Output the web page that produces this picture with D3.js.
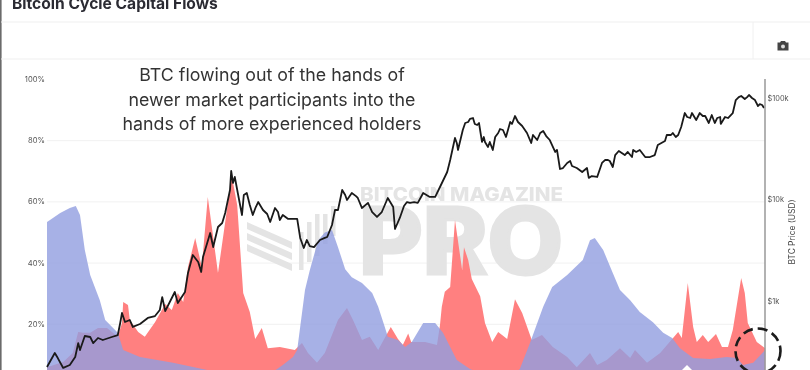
<!DOCTYPE html>
<html>
<head>
<meta charset="utf-8">
<script src="https://cdn.jsdelivr.net/npm/d3@7"></script>
<style>
  html, body { margin: 0; padding: 0; background: #fff; overflow: hidden; }
  svg { display: block; font-family: Inter, "Noto Sans", sans-serif; filter: blur(0.45px); }
</style>
</head>
<body>
<div id="chart"></div>
<script>
// all x values are months since the left edge of the chart (about May 2015)
const blueMonths = [0,.5,2.2,3.8,4.8,5.5,6.3,7.2,8.8,9.7,11.8,12.7,15.5,21,26.7,30.5,35.5,39.3,41,41.7,43,43.8,45.2,46.3,47.5,48.5,49.7,50.8,52.5,54.2,55.2,56.3,56.8,58.5,59.7,60.8,62.7,64.7,66,67.2,68.3,70.5,73.8,77.2,78.8,80.5,82.7,84.2,86.7,89.3,90.5,91.3,92.7,94.3,95.5,97.2,98.8,101,102.7,104.2,105.5,107.7,110.5,113.3,115,116,117.7,119.7];
const blueValues = [53.4,54.1,56.4,58,58.7,55.7,44.3,36.1,27.9,21.4,17.2,11.6,9.3,7.4,5.1,2.9,1.5,6.7,9.3,11.6,31.2,37.7,47.5,50,50.8,45.2,38,35.4,33.5,30.2,25.7,19.1,15.9,14.9,12.6,14.2,20.4,20.4,17.2,12.6,8.3,5.4,2.5,2.5,5.4,13.9,25.7,32.2,36.1,41,47.5,48.2,44.3,36.8,31.2,27.9,24,20.7,17.2,15.5,12.2,9,8.7,9.3,9,6.7,7.4,11.6];

const redMonths = [0,2.7,4.3,5.2,6,7.2,8.5,10,11.8,12.5,12.7,13.5,13.8,15.2,16.3,18,19.7,20.8,21.8,22.7,23.5,24.7,25.8,26.8,28.5,30.5,30.8,31.7,32.7,33.8,34.7,35.8,36.8,38.8,41.3,42.5,43.5,45,46.3,48.5,50,51,52.5,53.8,55.2,56.2,57.3,58.5,59.3,60.2,60.7,63,65,65.5,65.8,66.3,67.2,68,69.2,69.5,70.2,70.8,72.2,73,74.2,75.2,76.7,78,79.2,80.8,82.5,84.3,86.7,88.3,90.5,91.7,93.3,95.5,97.2,98,100,102.2,104.2,105.2,105.8,106.8,107.7,108.3,109.3,110.2,111.5,112.5,113.5,114.3,115.7,116.3,116.8,118.3,119.7];
const redValues = [6,7.7,10.6,17.5,17.2,17.2,18.8,18.8,15.9,20.4,27.3,26.3,21.4,17.5,15.9,20.7,26.6,24.7,30.2,27.3,38.7,48.2,38.7,61.6,36.8,64.5,68.5,59,30.2,24,15.2,18.8,12.2,12.6,11.6,13.9,10.6,7.4,10.6,21.4,25.3,21.4,14.9,15.9,11.6,15.2,19.1,15.2,13.2,17,14.2,14.2,13.2,19.8,25.7,30.6,32.2,54.1,37.7,45.2,41,34.8,29.2,20.4,14.2,17.5,15.2,28.2,23.7,14.9,16.5,12.6,9.3,6,10.6,6.7,8.3,12.2,9,11.6,7.4,10.6,15.2,17.5,15.5,33.5,19.1,14.2,16.5,14.2,16.8,12.6,12.6,18.1,35.1,30.2,20.4,14.2,12.2];

const priceMonths = [
  0,1.3,1.8,2.7,3.8,4.7,5.2,5.5,6.3,7.2,
  7.7,8.5,9.3,10.8,11.8,12.2,12.5,13,13.8,14.3,
  15.5,16.8,18,18.8,19.2,19.7,20.8,21.3,21.8,23,
  23.5,24.3,25.2,25.7,26,27.2,27.7,28.5,29.2,29.7,
  30.5,30.7,31,31.3,31.8,32.5,32.8,33.3,33.8,34.3,
  34.8,35.2,36,36.7,37.2,38,38.5,38.8,39.3,40.2,
  40.8,41.7,42.2,42.8,43.3,43.8,44.5,45.5,46.3,46.7,
  47.5,48,48.5,49.2,49.7,50,50.8,51.5,51.8,52.5,
  53.5,54.2,55,55.8,56.3,56.8,57.7,58,58.8,59.5,
  60,60.5,61.2,61.8,62.7,63.8,64.7,65.5,66.7,67.2,
  68,68.3,68.5,69.3,69.7,70.2,70.5,71,71.3,71.7,
  72,72.5,72.8,73,73.5,73.8,74.3,74.7,75.2,75.5,
  76,76.5,77.2,77.5,78,78.5,79.2,80,80.7,81,
  81.7,82.2,82.7,83.2,83.8,84.7,85,85.5,86,86.7,
  87.2,87.5,88.3,89.2,90,90.3,90.8,91.7,92.5,93,
  93.5,93.8,94.3,94.7,95.3,96.3,96.8,97.5,97.7,98.2,
  98.8,99.7,100.5,101.3,101.8,103,103.3,104,104.3,104.8,
  105.2,105.7,106.3,106.7,107.2,107.5,108.2,108.8,109.3,109.7,
  110.3,110.8,111.3,111.7,112.2,112.3,113,113.5,114.3,114.8,
  115.3,115.7,116.3,116.7,117,117.5,118,118.5,118.8,119.2,
  119.5
];
const priceUsd = [
  224,307,274,219,234,281,385,329,452,442,
  385,432,413,442,462,607,762,621,650,555,
  593,681,711,815,1094,796,1071,1227,955,1227,
  1888,2838,2421,1932,2710,4677,3404,5358,5867,7362,
  12410,19100,14550,16670,11590,7030,11070,11590,8830,7030,
  8430,9440,7880,7200,6000,8240,7530,6280,7030,6430,
  6430,6430,4180,3330,3990,3470,3400,3990,4180,4270,
  5610,7880,7880,12410,11070,9890,11590,10800,10350,8240,
  9250,7530,6730,7530,8830,10350,8430,5120,6580,8640,
  9440,9250,9440,9250,11590,10590,10590,13280,18660,24490,
  40360,36060,30760,48400,56700,58030,62300,63500,55500,54200,
  56700,36900,41300,36900,32900,36900,30760,41300,45200,49500,
  48400,41300,58030,55500,66500,58030,53000,45200,36060,43200,
  38550,45200,47300,42200,38550,29400,30760,19970,20420,22900,
  23950,21400,20420,18660,20420,16300,17000,16670,22900,24490,
  24490,23950,20900,27400,30060,27400,29400,26200,30760,29400,
  30760,26200,26200,27400,34400,37700,43200,43200,45200,41300,
  43200,51800,71100,65000,63500,71100,60700,71100,66500,66500,
  56700,68000,56700,63500,65000,55500,65000,63500,71100,95500,
  102000,104600,97700,102000,107100,100000,95500,83400,87000,85300,
  79600
];

const pctTicks = [100, 80, 60, 40, 20];
const priceTicks = [100000, 10000, 1000];
const priceTickLabels = ["$100k", "$10k", "$1k"];
const noteLines = [
  "BTC flowing out of the hands of",
  "newer market participants into the",
  "hands of more experienced holders"
];

const width = 810, height = 370;
const plotLeft = 47, plotRight = 765;

const x = d3.scaleLinear().domain([0, 119.67]).range([plotLeft, plotRight]);
const yPct = d3.scaleLinear().domain([0, 100]).range([385.5, 79.5]);
const yPrice = d3.scaleLog().domain([1000, 100000]).range([301, 98]);

const svg = d3.select("#chart").append("svg")
  .attr("width", width)
  .attr("height", height);

// page furniture around the chart
svg.append("text")
  .attr("x", 12).attr("y", 8.5)
  .attr("font-size", 15.6).attr("font-weight", 700).attr("fill", "#2b2b33")
  .text("Bitcoin Cycle Capital Flows");
svg.append("rect").attr("x", 0).attr("y", 0).attr("width", 1.6).attr("height", height).attr("fill", "#6b6b6b");
svg.append("line").attr("x1", 1).attr("x2", width).attr("y1", 22).attr("y2", 22).attr("stroke", "#efefef");
svg.append("line").attr("x1", 1).attr("x2", width).attr("y1", 59).attr("y2", 59).attr("stroke", "#efefef");
svg.append("line").attr("x1", 753).attr("x2", 753).attr("y1", 22).attr("y2", 59).attr("stroke", "#f0f0f0");

// camera icon
const cam = svg.append("g").attr("transform", "translate(783,46)");
cam.append("path").attr("d", "M-5.5,-3.5 h2.5 l1,-1.5 h4 l1,1.5 h2.5 v8 h-11 z").attr("fill", "#444");
cam.append("circle").attr("cy", 0.5).attr("r", 2).attr("fill", "#ddd");

// gridlines
svg.append("g").selectAll("line")
  .data(pctTicks.slice(1))
  .join("line")
  .attr("x1", plotLeft).attr("x2", plotRight)
  .attr("y1", d => yPct(d)).attr("y2", d => yPct(d))
  .attr("stroke", "#f1f1f1");

// watermark
const wm = svg.append("g").attr("fill", "#e4e4e4");
wm.append("text")
  .attr("x", 360).attr("y", 201)
  .attr("font-size", 19).attr("font-weight", 800)
  .attr("textLength", 203).attr("lengthAdjust", "spacingAndGlyphs")
  .text("BITCOIN MAGAZINE");
wm.append("text")
  .attr("x", 359).attr("y", 274)
  .attr("font-size", 92).attr("font-weight", 800)
  .attr("stroke", "#e4e4e4").attr("stroke-width", 3)
  .attr("textLength", 204).attr("lengthAdjust", "spacingAndGlyphs")
  .text("PRO");
wm.selectAll("path.stripe")
  .data([222, 233, 244])
  .join("path")
  .attr("class", "stripe")
  .attr("d", d => `M247,${d} L292,${d + 20} V${d + 27} L247,${d + 7} Z`);
wm.selectAll("rect.bar")
  .data([[299, 232, 38], [307, 222, 40], [315, 214, 42], [323, 214, 30], [331, 206, 30]])
  .join("rect")
  .attr("class", "bar")
  .attr("x", d => d[0]).attr("y", d => d[1])
  .attr("width", 4.5).attr("height", d => d[2]);

const area = d3.area()
  .x(d => x(d[0]))
  .y0(yPct(0))
  .y1(d => yPct(d[1]));

svg.append("path")
  .datum(d3.zip(redMonths, redValues))
  .attr("d", area)
  .attr("fill", "#ff8080");

svg.append("path")
  .datum(d3.zip(blueMonths, blueValues))
  .attr("d", area)
  .attr("fill", "rgb(145,158,224)")
  .attr("fill-opacity", 0.8);

// small white marker at the bottom edge
svg.append("path").attr("d", "M687,365 L693,371 H681 Z").attr("fill", "#fff");

// price line
svg.append("path")
  .datum(d3.zip(priceMonths, priceUsd))
  .attr("d", d3.line().x(d => x(d[0])).y(d => yPrice(d[1])))
  .attr("fill", "none")
  .attr("stroke", "#1a1a1a")
  .attr("stroke-width", 1.8)
  .attr("stroke-linejoin", "round");

// axes
svg.append("line")
  .attr("x1", plotRight).attr("x2", plotRight)
  .attr("y1", 79).attr("y2", height)
  .attr("stroke", "#999").attr("stroke-width", 1.5);

svg.append("g").selectAll("text")
  .data(pctTicks)
  .join("text")
  .attr("x", 45).attr("y", d => yPct(d) + 2.5)
  .attr("text-anchor", "end")
  .attr("font-size", 7.6).attr("fill", "#555")
  .text(d => d + "%");

svg.append("g").selectAll("text")
  .data(priceTicks)
  .join("text")
  .attr("x", 767.5).attr("y", d => yPrice(d) + 2.5)
  .attr("font-size", 7.4).attr("fill", "#555")
  .text((d, i) => priceTickLabels[i]);

svg.append("text")
  .attr("transform", "translate(795,232) rotate(-90)")
  .attr("text-anchor", "middle")
  .attr("font-size", 8.4).attr("fill", "#444")
  .text("BTC Price (USD)");

// annotation
svg.append("g").selectAll("text")
  .data(noteLines)
  .join("text")
  .attr("x", 272).attr("y", (d, i) => 81 + i * 24.5)
  .attr("text-anchor", "middle")
  .attr("font-size", 17.8).attr("fill", "#333")
  .text(d => d);

// dashed circle
svg.append("circle")
  .attr("cx", 758).attr("cy", 351).attr("r", 22.5)
  .attr("fill", "none")
  .attr("stroke", "#1c1c1c").attr("stroke-width", 2.6)
  .attr("stroke-dasharray", "10 5");
</script>
</body>
</html>
